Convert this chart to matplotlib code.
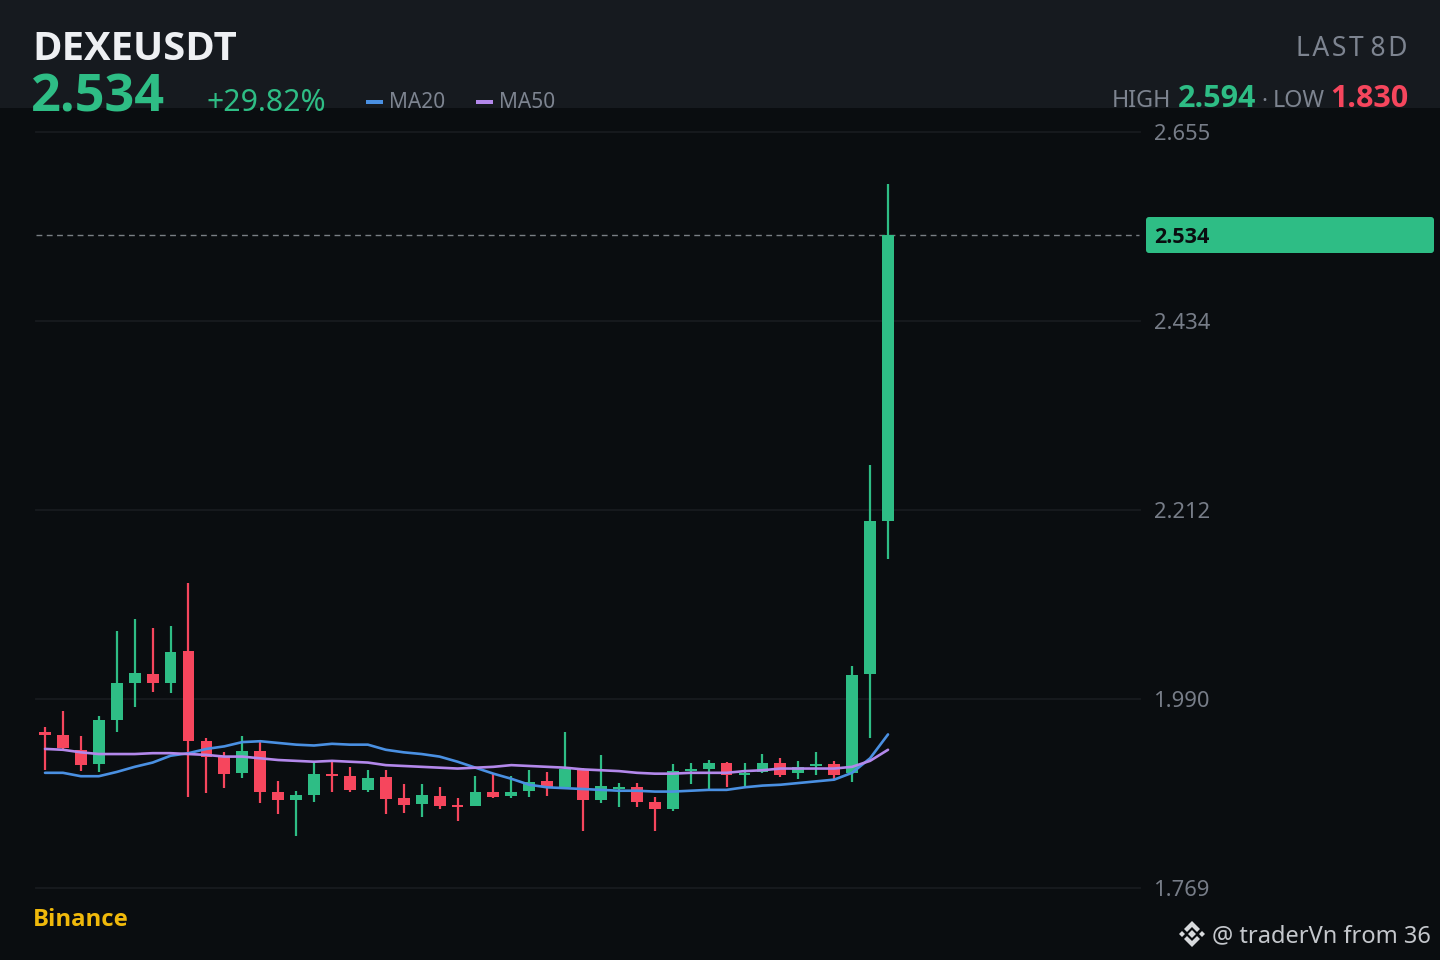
import matplotlib
matplotlib.use("Agg")
import matplotlib.pyplot as plt
from matplotlib.patches import FancyBboxPatch, Polygon, Rectangle

plt.rcParams['font.family'] = ['Noto Sans', 'DejaVu Sans']
BOLD = ['Open Sans', 'Noto Sans', 'DejaVu Sans']

# candle values: open, high, low, close
opens = [1.952,1.948,1.931,1.914,1.966,2.009,2.020,2.009,2.047,1.941,1.923,1.904,
         1.930,1.882,1.872,1.878,1.903,1.900,1.884,1.899,1.875,1.867,1.877,1.865,
         1.865,1.882,1.877,1.883,1.894,1.887,1.908,1.872,1.885,1.887,1.870,1.862,
         1.906,1.908,1.916,1.901,1.905,1.916,1.904,1.912,1.914,1.904,2.020,2.199]
highs = [1.958,1.976,1.947,1.971,2.070,2.084,2.074,2.076,2.126,1.945,1.928,1.947,
         1.940,1.894,1.883,1.917,1.918,1.911,1.907,1.907,1.891,1.891,1.887,1.875,
         1.900,1.903,1.900,1.907,1.905,1.952,1.910,1.925,1.892,1.892,1.876,1.914,
         1.916,1.919,1.917,1.916,1.926,1.921,1.918,1.928,1.918,2.029,2.265,2.594]
lows = [1.907,1.931,1.906,1.905,1.952,1.981,1.999,1.998,1.876,1.880,1.886,1.898,
        1.869,1.856,1.830,1.870,1.882,1.882,1.882,1.856,1.857,1.852,1.862,1.848,
        1.865,1.875,1.875,1.876,1.877,1.887,1.836,1.869,1.864,1.864,1.836,1.859,
        1.891,1.885,1.887,1.889,1.904,1.899,1.897,1.901,1.896,1.893,1.945,2.155]
closes = [1.948,1.933,1.913,1.966,2.009,2.021,2.009,2.046,1.941,1.923,1.903,1.930,
          1.882,1.872,1.878,1.903,1.900,1.884,1.898,1.873,1.866,1.878,1.865,1.864,
          1.882,1.876,1.882,1.893,1.887,1.908,1.872,1.889,1.887,1.870,1.862,1.906,
          1.908,1.916,1.901,1.904,1.916,1.901,1.911,1.913,1.901,2.019,2.199,2.534]
ma20 = [1.904,1.904,1.900,1.900,1.905,1.911,1.916,1.924,1.927,1.932,1.935,1.940,
        1.941,1.939,1.937,1.936,1.938,1.937,1.937,1.931,1.928,1.926,1.923,1.917,
        1.910,1.903,1.897,1.890,1.887,1.886,1.885,1.884,1.883,1.883,1.882,1.882,
        1.883,1.884,1.884,1.887,1.889,1.890,1.892,1.894,1.896,1.904,1.921,1.949]
ma50 = [1.932,1.931,1.928,1.926,1.926,1.926,1.927,1.927,1.926,1.925,1.923,1.923,
        1.921,1.919,1.918,1.917,1.918,1.917,1.916,1.913,1.912,1.911,1.910,1.909,
        1.910,1.911,1.913,1.912,1.911,1.910,1.908,1.907,1.906,1.904,1.903,1.903,
        1.904,1.904,1.904,1.906,1.907,1.909,1.909,1.909,1.909,1.911,1.918,1.931]
y_ticks = [1.769, 1.990, 2.212, 2.434, 2.655]
last_price = 2.534

BG, HEADER = '#0a0d10', '#161a1f'
GREEN, RED = '#2ebd85', '#f6465d'
BLUE, PURPLE = '#4a90e2', '#b388eb'
GRAY, TICK = '#7d8490', '#777d88'

W, H = 1440, 960
fig = plt.figure(figsize=(14.4, 9.6), dpi=100, facecolor=BG)

bg = fig.add_axes([0, 0, 1, 1], zorder=0)
bg.set_xlim(0, W); bg.set_ylim(H, 0); bg.axis('off')
bg.add_patch(Rectangle((0, 0), W, 108, facecolor=HEADER, edgecolor='none'))

ax = fig.add_axes([36/W, 1-888/H, (1140-36)/W, (888-132)/H], zorder=1)
ax.patch.set_alpha(0)
step = (888-45)/47
ax.set_xlim((36-45)/step, (1140-45)/step)
ax.set_ylim(1.769, 2.655)
for s in ax.spines.values():
    s.set_visible(False)
ax.set_xticks([])
ax.yaxis.tick_right()
ax.set_yticks(y_ticks)
ax.set_yticklabels([f'{v:.3f}' for v in y_ticks], color=TICK, fontsize=15.8)
ax.tick_params(axis='y', length=0, pad=10.2)
ax.grid(axis='y', color='#181b1f', lw=1.3, clip_on=False)
ax.set_axisbelow(True)

xs = list(range(len(opens)))
colors = [GREEN if c >= o else RED for o, c in zip(opens, closes)]
ax.vlines(xs, lows, highs, colors=colors, lw=1.6, zorder=2)
ax.bar(xs, [max(abs(c-o), 0.0018) for o, c in zip(opens, closes)],
       bottom=[min(o, c) for o, c in zip(opens, closes)],
       width=0.66, color=colors, zorder=3, linewidth=0)
ax.plot(xs, ma20, color=BLUE, lw=1.9, zorder=4, solid_capstyle='round')
ax.plot(xs, ma50, color=PURPLE, lw=1.9, zorder=5, solid_capstyle='round')
ax.plot([-0.5, 61], [last_price, last_price], color='#7a7f85', lw=1.0, dashes=(4.2, 3.2), zorder=2)

ov = fig.add_axes([0, 0, 1, 1], zorder=3)
ov.set_xlim(0, W); ov.set_ylim(H, 0); ov.axis('off'); ov.patch.set_alpha(0)

def t(x, y, s, size, color, weight='normal', ha='left', va='baseline'):
    fam = BOLD if weight == 'bold' else ['Noto Sans', 'DejaVu Sans']
    return ov.text(x, y, s, fontsize=size, color=color, fontweight=weight, ha=ha, va=va, family=fam)

t(32, 60, 'DEXEUSDT', 28.8, '#eef0f3', 'bold')
t(31, 111, '2.534', 37.6, GREEN, 'bold')
t(206, 111, '+29.82%', 21.7, GREEN)
ov.add_patch(Rectangle((366, 100), 17, 4, facecolor=BLUE, edgecolor='none'))
t(389, 108, 'MA20', 15, GRAY)
ov.add_patch(Rectangle((476, 100), 17, 4, facecolor=PURPLE, edgecolor='none'))
t(499, 108, 'MA50', 15, GRAY)

t(1408, 56, 'L\u200aA\u200aS\u200aT 8\u200aD', 19, GRAY, ha='right')
t(1112, 107, 'HIGH', 16.8, GRAY)
t(1178, 107, '2.594', 22, GREEN, 'bold')
t(1261, 107, '·', 16, GRAY)
t(1273, 107, 'LOW', 16.8, GRAY)
t(1408, 107, '1.830', 22, RED, 'bold', ha='right')

ov.add_patch(FancyBboxPatch((1148, 219), 284, 32, boxstyle='round,pad=2,rounding_size=3',
                            facecolor=GREEN, edgecolor='none'))
t(1154, 243, '2.534', 15.5, '#0a0d10', 'bold')

t(33, 926, 'Binance', 17.2, '#f0b90b', 'bold')
t(1212, 942, '@ traderVn from 36', 17.0, '#c4c7cc')

cx, cy, c = 1192, 934, '#d8dadd'
ov.add_patch(Polygon([(cx, cy-4), (cx+4, cy), (cx, cy+4), (cx-4, cy)], facecolor=c, edgecolor='none'))
ov.add_patch(Polygon([(cx-13, cy), (cx-10, cy-3), (cx-7, cy), (cx-10, cy+3)], facecolor=c, edgecolor='none'))
ov.add_patch(Polygon([(cx+13, cy), (cx+10, cy-3), (cx+7, cy), (cx+10, cy+3)], facecolor=c, edgecolor='none'))
ov.add_patch(Polygon([(cx, cy-13), (cx+8, cy-5), (cx+5, cy-2), (cx, cy-7), (cx-5, cy-2), (cx-8, cy-5)], facecolor=c, edgecolor='none'))
ov.add_patch(Polygon([(cx, cy+13), (cx+8, cy+5), (cx+5, cy+2), (cx, cy+7), (cx-5, cy+2), (cx-8, cy+5)], facecolor=c, edgecolor='none'))

fig.savefig('out.png', dpi=100, facecolor=BG)
